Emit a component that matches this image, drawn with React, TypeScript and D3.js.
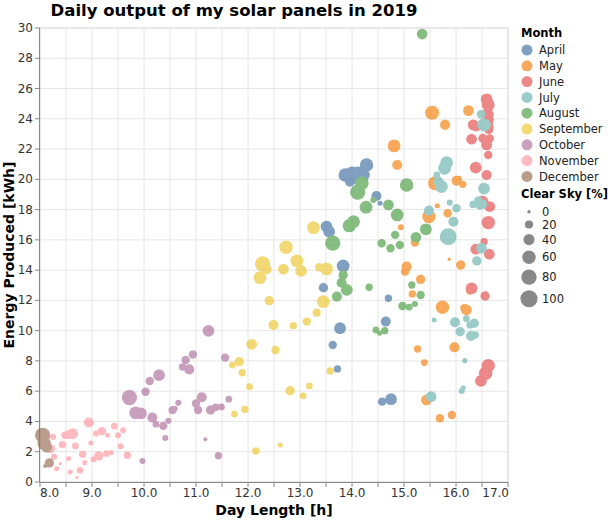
import React from 'react';
import * as d3 from 'd3';

// [day length h, energy kWh, clear sky %]
type Day = [number, number, number];

const months = ['April', 'May', 'June', 'July', 'August', 'September', 'October', 'November', 'December'];
const monthColors = ['#4c78a8', '#f58518', '#e45756', '#72b7b2', '#54a24b', '#eeca3b', '#b279a2', '#ff9da6', '#9d755d'];

const april: Day[] = [
  [13.87, 20.29, 60], [14.0, 20.4, 60], [14.12, 20.4, 60], [14.28, 20.95, 60], [14.22, 20.29, 54],
  [14.08, 20.1, 50], [13.96, 19.85, 32], [14.47, 18.9, 32], [14.54, 18.42, 5], [13.51, 16.88, 45],
  [13.56, 16.54, 45], [13.83, 14.28, 54], [13.45, 12.84, 27], [14.7, 12.14, 15], [13.77, 10.16, 45],
  [13.63, 9.05, 21], [13.72, 7.47, 15], [14.65, 10.6, 32], [14.75, 5.47, 45], [14.58, 5.31, 21],
];
const may: Day[] = [
  [14.81, 22.21, 54], [14.87, 20.95, 32], [14.94, 16.83, 9], [15.05, 14.23, 32], [15.02, 13.9, 21],
  [15.16, 12.43, 15], [15.26, 8.79, 15], [15.21, 15.82, 21], [15.32, 13.39, 27], [15.54, 24.4, 67],
  [15.79, 23.6, 32], [16.24, 24.54, 37], [15.6, 19.74, 67], [16.01, 19.91, 32], [16.05, 20.02, 12],
  [16.13, 19.67, 15], [15.64, 18.26, 5], [15.84, 17.76, 21], [15.48, 17.54, 60], [15.87, 14.72, 0],
  [16.09, 14.34, 27], [16.27, 12.65, 21], [15.74, 11.55, 60], [16.16, 11.48, 21], [16.2, 11.37, 37],
  [15.97, 8.9, 32], [15.39, 7.89, 12], [15.43, 5.42, 37], [15.92, 4.43, 21], [15.69, 4.21, 21],
];
const june: Day[] = [
  [16.59, 25.29, 45], [16.62, 24.92, 54], [16.61, 24.3, 45], [16.63, 23.93, 32], [16.33, 23.6, 37],
  [16.39, 23.5, 32], [16.61, 23.5, 45], [16.63, 23.3, 27], [16.3, 22.65, 37], [16.52, 22.7, 27],
  [16.65, 22.7, 21], [16.59, 22.27, 37], [16.62, 21.61, 21], [16.38, 20.77, 45], [16.59, 20.29, 32],
  [16.51, 18.53, 45], [16.65, 18.2, 37], [16.62, 17.14, 60], [16.54, 15.88, 15], [16.38, 15.38, 37],
  [16.64, 15.05, 37], [16.3, 12.8, 45], [16.56, 12.29, 27], [16.62, 7.69, 60], [16.57, 7.18, 60],
  [16.48, 6.68, 45],
];
const july: Day[] = [
  [15.82, 21.1, 54], [15.78, 20.73, 54], [15.63, 20.29, 12], [15.66, 19.85, 32], [15.72, 19.52, 54],
  [16.48, 24.3, 21], [16.54, 23.6, 60], [16.54, 19.39, 45], [16.33, 18.34, 15], [16.43, 18.6, 21],
  [16.46, 18.27, 21], [15.88, 18.46, 9], [16.01, 18.09, 21], [15.48, 17.93, 32], [16.51, 18.35, 27],
  [15.95, 17.2, 32], [15.85, 16.21, 97], [16.49, 15.45, 37], [16.4, 14.61, 27], [15.58, 10.71, 5],
  [15.98, 10.56, 32], [16.2, 10.79, 12], [16.27, 10.38, 15], [16.35, 10.49, 27], [16.08, 9.93, 27],
  [16.29, 9.65, 32], [16.37, 9.72, 15], [16.17, 8.02, 5], [16.14, 6.23, 5], [16.11, 6.01, 9],
  [15.52, 5.64, 37],
];
const august: Day[] = [
  [14.19, 19.74, 60], [14.11, 19.15, 78], [14.41, 18.64, 9], [14.27, 18.16, 54], [14.7, 18.31, 37],
  [14.87, 17.65, 54], [15.05, 19.63, 60], [14.03, 17.2, 54], [13.95, 16.94, 60], [13.63, 15.78, 78],
  [14.83, 16.33, 21], [14.57, 15.78, 21], [14.74, 15.45, 21], [14.92, 15.66, 21], [15.23, 16.17, 37],
  [15.42, 16.7, 45], [13.83, 13.68, 27], [13.8, 13.17, 32], [13.9, 12.69, 45], [13.71, 12.25, 32],
  [14.33, 12.87, 15], [15.15, 13.02, 15], [14.46, 10.05, 12], [14.53, 9.83, 5], [14.63, 10.0, 15],
  [14.97, 11.63, 21], [15.1, 11.55, 12], [15.21, 11.76, 9], [15.32, 12.36, 21], [15.35, 29.6, 37],
];
const september: Day[] = [
  [13.26, 16.81, 54], [12.73, 15.51, 60], [12.94, 14.61, 54], [13.02, 13.95, 45], [12.68, 14.06, 37],
  [12.28, 14.41, 78], [12.36, 14.06, 32], [12.23, 13.5, 54], [13.37, 14.19, 21], [13.51, 14.08, 54],
  [13.45, 11.92, 54], [13.32, 11.19, 21], [13.13, 10.6, 21], [12.87, 10.33, 15], [12.49, 10.38, 32],
  [12.41, 11.98, 27], [12.07, 9.1, 37], [12.53, 8.72, 21], [11.83, 7.95, 27], [11.7, 7.73, 12],
  [11.89, 7.22, 15], [12.03, 6.3, 12], [11.94, 4.8, 15], [11.74, 4.49, 12], [12.81, 6.03, 27],
  [13.06, 5.7, 12], [13.18, 6.35, 12], [13.58, 7.34, 15], [12.15, 2.05, 15], [12.62, 2.45, 5],
];
const october: Day[] = [
  [9.97, 1.39, 9], [9.72, 5.58, 78], [9.84, 4.57, 54], [9.94, 4.53, 45], [10.03, 5.96, 21],
  [10.11, 6.67, 21], [10.29, 7.06, 45], [10.16, 4.26, 32], [10.23, 3.82, 12], [10.37, 3.71, 21],
  [10.41, 2.91, 9], [10.47, 4.04, 9], [10.55, 4.75, 21], [10.6, 4.86, 5], [10.66, 5.23, 9],
  [10.74, 7.6, 15], [10.8, 8.06, 21], [10.87, 7.44, 32], [10.94, 8.43, 21], [11.0, 5.19, 21],
  [11.24, 9.98, 45], [11.56, 8.22, 21], [11.11, 5.6, 32], [11.04, 4.76, 21], [11.28, 4.76, 27],
  [11.38, 4.94, 15], [11.49, 4.96, 12], [11.63, 5.47, 12], [11.18, 2.82, 2], [11.43, 1.74, 15],
];
const november: Day[] = [
  [8.25, 2.98, 9], [8.21, 2.2, 21], [8.27, 1.66, 9], [8.32, 0.88, 5], [8.39, 1.21, 0],
  [8.43, 2.47, 15], [8.48, 3.09, 15], [8.63, 3.2, 37], [8.57, 3.15, 27], [8.68, 2.38, 12],
  [8.55, 1.55, 5], [8.58, 0.66, 5], [8.71, 0.29, 0], [8.77, 0.77, 12], [8.82, 1.83, 15],
  [8.86, 1.28, 5], [8.94, 3.93, 32], [8.98, 2.58, 5], [9.03, 1.5, 9], [9.13, 1.72, 27],
  [9.08, 3.2, 9], [9.19, 3.36, 21], [9.3, 3.09, 5], [9.28, 1.88, 12], [9.37, 1.94, 5],
  [9.43, 3.69, 12], [9.5, 3.09, 9], [9.6, 3.42, 9], [9.55, 2.36, 9], [9.68, 1.77, 15],
];
const december: Day[] = [
  [8.05, 3.09, 78], [8.08, 2.54, 60], [8.13, 2.3, 37], [8.18, 1.26, 27], [8.1, 1.06, 2],
];

const series = [april, may, june, july, august, september, october, november, december];
const xTicks = d3.range(8, 17.01, 0.5);
const yTicks = d3.range(0, 31, 2);
const sizeLegend = [0, 20, 40, 60, 80, 100];

const W = 608;
const H = 532;
const font = 'DejaVu Sans, sans-serif';

const x = d3.scaleLinear().domain([8, 17]).range([40, 508]);
const y = d3.scaleLinear().domain([0, 30]).range([482, 28]);
const area = d3.scaleLinear().domain([0, 100]).range([9, 230]);
const radius = (v: number) => Math.sqrt(area(v) / Math.PI);

const App = () => {
  // size legend rows stacked by symbol diameter, at least one label high
  let cy = 211.7;
  const sizeRows = sizeLegend.map((v, i) => {
    if (i > 0) cy += Math.max(radius(sizeLegend[i - 1]) + radius(v) + 5.4, 12.8);
    return {v, cy};
  });

  return (
    <svg width={W} height={H} style={{position: 'absolute', left: 0, top: 0, background: '#fff'}} fontFamily={font}>
      <text x={234} y={16} textAnchor="middle" fontSize={16.5} fontWeight="bold">
        Daily output of my solar panels in 2019
      </text>

      {/* grid */}
      <g stroke="#e6e6e6" strokeWidth={1}>
        {xTicks.map(t => (
          <line key={'gx' + t} x1={x(t)} x2={x(t)} y1={y(0)} y2={y(30)} />
        ))}
        {yTicks.map(t => (
          <line key={'gy' + t} x1={x(8)} x2={x(17)} y1={y(t)} y2={y(t)} />
        ))}
      </g>
      <rect x={x(8)} y={y(30)} width={x(17) - x(8)} height={y(0) - y(30)} fill="none" stroke="#ddd" />

      {/* axes */}
      <g stroke="#888" strokeWidth={1}>
        <line x1={x(8)} x2={x(17)} y1={y(0) + 0.5} y2={y(0) + 0.5} />
        <line x1={x(8) - 0.5} x2={x(8) - 0.5} y1={y(0)} y2={y(30)} />
        {xTicks.map(t => (
          <line key={'tx' + t} x1={x(t)} x2={x(t)} y1={y(0)} y2={y(0) + 5} />
        ))}
        {yTicks.map(t => (
          <line key={'ty' + t} x1={x(8) - 5} x2={x(8)} y1={y(t)} y2={y(t)} />
        ))}
      </g>
      <g fontSize={12} fill="#333">
        {xTicks.filter(t => t % 1 === 0).map((t, i, arr) => (
          <text
            key={'lx' + t}
            x={i === arr.length - 1 ? x(t) + 1 : x(t)}
            y={497}
            textAnchor={i === 0 ? 'start' : i === arr.length - 1 ? 'end' : 'middle'}>
            {d3.format('.1f')(t)}
          </text>
        ))}
        {yTicks.map(t => (
          <text key={'ly' + t} x={x(8) - 7} y={y(t) + 4} textAnchor="end">
            {t}
          </text>
        ))}
      </g>
      <text x={(x(8) + x(17)) / 2} y={515} textAnchor="middle" fontSize={14} fontWeight="bold">
        Day Length [h]
      </text>
      <text
        transform={`translate(14, ${(y(0) + y(30)) / 2}) rotate(-90)`}
        textAnchor="middle"
        fontSize={14}
        fontWeight="bold">
        Energy Produced [kWh]
      </text>

      {/* points */}
      <g opacity={0.7}>
        {series.map((days, mi) =>
          days.map((d, i) => (
            <circle key={mi + '-' + i} cx={x(d[0])} cy={y(d[1])} r={radius(d[2])} fill={monthColors[mi]} />
          )),
        )}
      </g>

      {/* legends */}
      <text x={521} y={37} fontSize={11.5} fontWeight="bold">
        Month
      </text>
      {months.map((m, i) => (
        <g key={m} transform={`translate(527, ${50 + i * 15.8})`}>
          <circle r={5.5} fill={monthColors[i]} opacity={0.7} />
          <text x={12} y={4.2} fontSize={11.5} fill="#222">
            {m}
          </text>
        </g>
      ))}
      <text x={521} y={198} fontSize={11.5} fontWeight="bold">
        Clear Sky [%]
      </text>
      {sizeRows.map(r => (
        <g key={r.v} transform={`translate(529, ${r.cy})`}>
          <circle r={radius(r.v)} fill="#888" />
          <text x={13} y={4.2} fontSize={11.5} fill="#222">
            {r.v}
          </text>
        </g>
      ))}
    </svg>
  );
};

export default App;
